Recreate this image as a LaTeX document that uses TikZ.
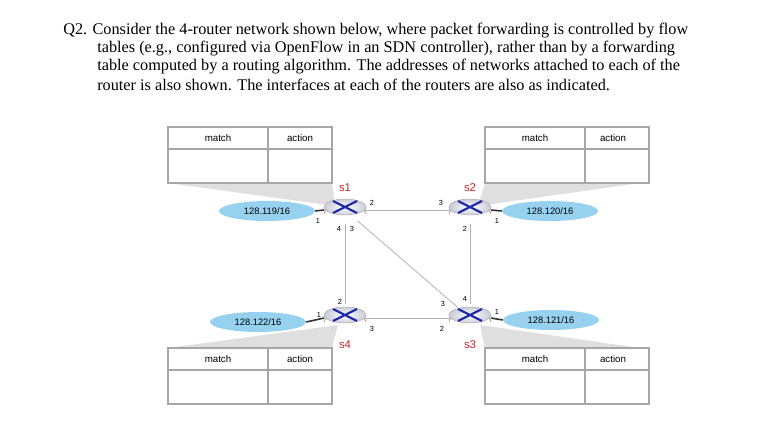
\documentclass[tikz,border=0pt]{standalone}
\usepackage{fontspec}
\setmainfont{Liberation Serif}
\newfontfamily\sansf{Liberation Sans}
\usetikzlibrary{shapes.geometric,shapes.symbols}
\definecolor{cloudc}{RGB}{150,210,240}
\definecolor{rlab}{RGB}{200,40,40}
\definecolor{xblue}{RGB}{30,40,170}
\begin{document}
\begin{tikzpicture}[x=0.75pt,y=-0.75pt,
  qtext/.style={anchor=west,inner sep=0,font=\fontsize{12.2}{13}\selectfont},
  tab/.style={draw=gray!70,line width=1pt},
  tabtxt/.style={font=\sansf\fontsize{7.3}{8}\selectfont},
  wedge/.style={fill=gray!25},
  router/.style={ellipse,minimum width=31pt,minimum height=20pt,inner sep=0},
  rname/.style={text=rlab,font=\sansf\fontsize{8.5}{9}\selectfont},
  port/.style={font=\sansf\fontsize{5.5}{6}\selectfont,inner sep=0},
  cloud/.style={fill=cloudc,ellipse,minimum width=72pt,minimum height=15pt,inner sep=0,font=\sansf\fontsize{7}{8}\selectfont},
  link/.style={draw=gray!60,line width=0.6pt},
  stub/.style={draw=black!80,line width=1.2pt}]
\useasboundingbox (0,0) rectangle (759,432);
% text
\node[qtext] (l1) at (63,31) {Q2. Consider the 4-router network shown below, where packet forwarding is controlled by flow};
\node[qtext] (l2) at (97,49) {tables (e.g., configured via OpenFlow in an SDN controller), rather than by a forwarding};
\node[qtext] (l3) at (97,67) {table computed by a routing algorithm. The addresses of networks attached to each of the};
\node[qtext] (l4) at (97,85) {router is also shown. The interfaces at each of the routers are also as indicated.};
% wedges
\fill[wedge] (168,183) -- (332,183) -- (335,206) -- cycle;
\fill[wedge] (485,183) -- (640,183) -- (478,206) -- cycle;
\fill[wedge] (168,348) -- (332,348) -- (338,325) -- cycle;
\fill[wedge] (485,348) -- (640,348) -- (480,325) -- cycle;
% tables
\foreach \x/\y/\d in {168/127/268,485/127/585,168/348/268,485/348/585}{
  \fill[white] (\x,\y) rectangle ++(164,56);
  \draw[tab] (\x,\y) rectangle ++(164,56);
  \draw[tab] (\x,\y+22) -- ++(164,0);
  \draw[tab] (\d,\y) -- (\d,\y+56);
}
\node[tabtxt] (m1) at (218,138) {match};
\node[tabtxt] (a1) at (300,138) {action};
\node[tabtxt] (m2) at (535,138) {match};
\node[tabtxt] (a2) at (613,138) {action};
\node[tabtxt] (m4) at (218,359) {match};
\node[tabtxt] (a4) at (300,359) {action};
\node[tabtxt] (m3) at (535,359) {match};
\node[tabtxt] (a3) at (613,359) {action};
% routers
\node[router] (s1) at (345,210) {};
\node[router] (s2) at (470,210) {};
\node[router] (s4) at (345,318) {};
\node[router] (s3) at (470,318) {};
% clouds
\node[cloud] (c1) at (267,211) {128.119/16};
\node[cloud] (c2) at (550,211) {128.120/16};
\node[cloud] (c4) at (258,322) {128.122/16};
\node[cloud] (c3) at (551,320) {128.121/16};
% links
\draw[link] (s1) -- (s2);
\draw[link] (s1) -- (s4);
\draw[link] (s2) -- (s3);
\draw[link] (s1) -- (s3);
\draw[link] (s4) -- (s3);
\draw[stub] (c1.east) -- (s1.west);
\draw[stub] (s2.east) -- (c2.west);
\draw[stub] (c4.east) -- (s4.west);
\draw[stub] (s3.east) -- (c3.west);
% router icons
\foreach \r in {s1,s2,s3,s4}{
  \begin{scope}[shift={(\r.center)}]
    \shade[top color=gray!20,bottom color=gray!55,draw=gray!70,line width=0.3pt]
      (-21,-3) -- (-21,4) arc[start angle=180,end angle=360,x radius=21,y radius=8] -- (21,-3) -- cycle;
    \shade[inner color=white,outer color=blue!15!gray!35,draw=gray!70,line width=0.3pt]
      (0,-3) ellipse[x radius=21,y radius=8];
    \draw[xblue,line width=1.6pt] (-12,-9) -- (12,3) (-12,3) -- (12,-9);
  \end{scope}
}
\node[rname] (n1) at (345,188) {s1};
\node[rname] (n2) at (470,188) {s2};
\node[rname] (n4) at (345,345) {s4};
\node[rname] (n3) at (470,345) {s3};
% ports
\node[port] (p11) at (318,221) {1};
\node[port] (p12) at (372,203) {2};
\node[port] (p14) at (339,229) {4};
\node[port] (p13) at (352,229) {3};
\node[port] (p23) at (441,203) {3};
\node[port] (p21) at (497,221) {1};
\node[port] (p22) at (465,229) {2};
\node[port] (p42) at (340,302) {2};
\node[port] (p41) at (319,315) {1};
\node[port] (p43) at (372,329) {3};
\node[port] (p33) at (443,304) {3};
\node[port] (p34) at (465,299) {4};
\node[port] (p31) at (497,312) {1};
\node[port] (p32) at (442,329) {2};
\end{tikzpicture}
\end{document}
